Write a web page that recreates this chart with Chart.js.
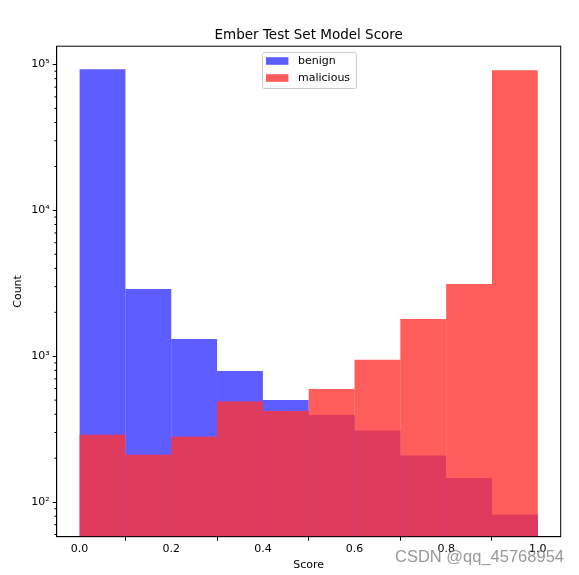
<!DOCTYPE html>
<html>
<head>
<meta charset="utf-8">
<title>Ember Test Set Model Score</title>
<script src="https://cdn.jsdelivr.net/npm/chart.js@4.4.0/dist/chart.umd.min.js"></script>
<style>
  html, body { margin: 0; padding: 0; background: #fff; }
  #wrap { width: 579px; height: 575px; }
</style>
</head>
<body>
<div id="wrap"><canvas id="chart"></canvas></div>
<script>
// histogram bins (score), width 0.1
const binCenters = [0.05, 0.15, 0.25, 0.35, 0.45, 0.55, 0.65, 0.75, 0.85, 0.95];
const benignCounts = [92900, 2890, 1314, 793, 502, 396, 308, 208, 145, 82];
const maliciousCounts = [289, 211, 281, 489, 422, 597, 944, 1800, 3130, 91400];

const xTicks = [0.0, 0.2, 0.4, 0.6, 0.8, 1.0];
const yTicks = [100, 1000, 10000, 100000];
const yTickLabels = ['10²', '10³', '10⁴', '10⁵'];
const yMinorTicks = [60, 70, 80, 90,
    200, 300, 400, 500, 600, 700, 800, 900,
    2000, 3000, 4000, 5000, 6000, 7000, 8000, 9000,
    20000, 30000, 40000, 50000, 60000, 70000, 80000, 90000];

const FONT = 'DejaVu Sans';

// white page under the bars, and the crimson tone where the two histograms overlap
const overlapTint = {
    id: 'overlapTint',
    beforeDraw(chart) {
        const {ctx} = chart;
        ctx.save();
        ctx.fillStyle = '#fff';
        ctx.fillRect(0, 0, chart.width, chart.height);
        ctx.restore();
    },
    afterDatasetDraw(chart, args) {
        if (args.index !== 1) {
            return;
        }
        const {ctx, chartArea: a} = chart;
        ctx.save();
        ctx.beginPath();
        ctx.rect(a.left, a.top, a.right - a.left, a.bottom - a.top);
        ctx.clip();
        ctx.globalCompositeOperation = 'lighten';
        ctx.fillStyle = 'rgb(221, 58, 92)';
        args.meta.data.forEach(bar => {
            const {x, y, base, width} = bar.getProps(['x', 'y', 'base', 'width'], true);
            ctx.fillRect(x - width / 2, y, width, base - y);
        });
        ctx.restore();
    }
};

// spines on all four sides + log minor ticks
const axesFrame = {
    id: 'axesFrame',
    afterDatasetsDraw(chart) {
        const {ctx, chartArea: a, scales: {y}} = chart;
        ctx.save();
        ctx.strokeStyle = '#000';
        ctx.lineWidth = 1;
        ctx.strokeRect(a.left, a.top, a.right - a.left, a.bottom - a.top);
        ctx.beginPath();
        yMinorTicks.forEach(v => {
            const py = y.getPixelForValue(v);
            ctx.moveTo(a.left - 2.3, py);
            ctx.lineTo(a.left, py);
        });
        ctx.stroke();
        ctx.restore();
    }
};

// matplotlib style legend inside the axes, upper center
const boxLegend = {
    id: 'boxLegend',
    afterDraw(chart) {
        const {ctx} = chart;
        const sets = chart.data.datasets;
        ctx.save();
        ctx.fillStyle = 'rgba(255,255,255,0.8)';
        ctx.strokeStyle = '#cccccc';
        ctx.lineWidth = 1;
        ctx.beginPath();
        ctx.roundRect(262.5, 52.5, 94, 36, 2);
        ctx.fill();
        ctx.stroke();
        ctx.font = '11px ' + FONT;
        ctx.textBaseline = 'middle';
        ctx.textAlign = 'left';
        sets.forEach((ds, i) => {
            const cy = 61 + i * 17;
            ctx.fillStyle = ds.backgroundColor;
            ctx.fillRect(266, cy - 3.8, 22.4, 7.6);
            ctx.fillStyle = '#000';
            ctx.fillText(ds.label, 298, cy + 0.5);
        });
        ctx.restore();
    }
};

const watermark = {
    id: 'watermark',
    afterDraw(chart) {
        const {ctx} = chart;
        ctx.save();
        ctx.font = '16.5px "Liberation Sans"';
        ctx.fillStyle = 'rgba(125,125,125,0.8)';
        ctx.textAlign = 'right';
        ctx.textBaseline = 'middle';
        ctx.fillText('CSDN @qq_45768954', 564, 557);
        ctx.restore();
    }
};

const ctx = document.getElementById('chart');

new Chart(ctx, {
    type: 'bar',
    data: {
        datasets: [{
            label: 'benign',
            data: binCenters.map((x, i) => ({x: x, y: benignCounts[i]})),
            backgroundColor: 'rgba(0, 0, 255, 0.64)',
            borderWidth: 0,
            inflateAmount: 0,
            order: 1
        }, {
            label: 'malicious',
            data: binCenters.map((x, i) => ({x: x, y: maliciousCounts[i]})),
            backgroundColor: 'rgba(255, 0, 0, 0.64)',
            borderWidth: 0,
            inflateAmount: 0,
            order: 0
        }]
    },
    options: {
        responsive: true,
        maintainAspectRatio: false,
        animation: false,
        grouped: false,
        barPercentage: 1,
        categoryPercentage: 1,
        layout: {
            padding: {top: 0, left: 0, right: 18.3, bottom: 0}
        },
        scales: {
            x: {
                type: 'linear',
                min: -0.05,
                max: 1.05,
                offset: false,
                bounds: 'data',
                afterBuildTicks: s => { s.ticks = xTicks.map(v => ({value: v})); },
                afterFit: s => { s.height = 38.3; },
                grid: {drawOnChartArea: false, drawTicks: true, tickLength: 4, tickColor: '#000', tickWidth: 1},
                border: {display: true, color: '#000', width: 1},
                ticks: {
                    color: '#000',
                    font: {family: FONT, size: 11},
                    padding: 2,
                    maxRotation: 0,
                    autoSkip: false,
                    callback: v => v.toFixed(1)
                },
                title: {
                    display: true,
                    text: 'Score',
                    color: '#000',
                    font: {family: FONT, size: 11},
                    padding: {top: 0, bottom: 3.4}
                }
            },
            y: {
                type: 'logarithmic',
                min: 57.9,
                max: 133500,
                bounds: 'data',
                afterBuildTicks: s => { s.ticks = yTicks.map(v => ({value: v, major: true})); },
                afterFit: s => { s.width = 56.7; },
                grid: {drawOnChartArea: false, drawTicks: true, tickLength: 4, tickColor: '#000', tickWidth: 1},
                border: {display: true, color: '#000', width: 1},
                ticks: {
                    color: '#000',
                    font: {family: FONT, size: 11},
                    padding: 3,
                    autoSkip: false,
                    callback: (v, i) => yTickLabels[i]
                },
                title: {
                    display: true,
                    text: 'Count',
                    color: '#000',
                    font: {family: FONT, size: 11},
                    padding: {top: 11.5, bottom: 0}
                }
            }
        },
        plugins: {
            legend: {display: false},
            tooltip: {enabled: false},
            title: {
                display: true,
                fullSize: false,
                text: 'Ember Test Set Model Score',
                color: '#000',
                font: {family: FONT, size: 13.5, weight: 'normal'},
                padding: {top: 27, bottom: 3}
            }
        }
    },
    plugins: [overlapTint, axesFrame, boxLegend, watermark]
});
</script>
</body>
</html>
